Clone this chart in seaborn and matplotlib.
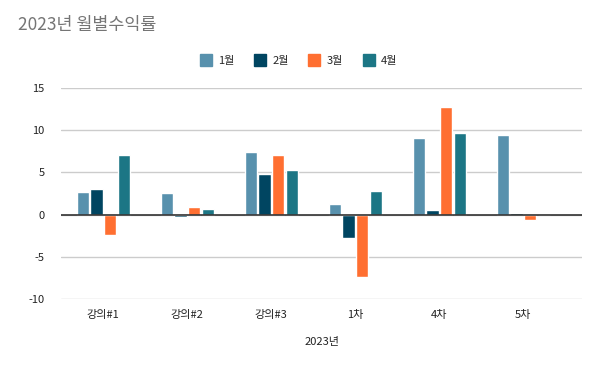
import numpy as np
import pandas as pd
import matplotlib
matplotlib.use("Agg")
import matplotlib.pyplot as plt
import seaborn as sns
from matplotlib.lines import Line2D

categories = ["강의#1", "강의#2", "강의#3", "1차", "4차", "5차"]
months = ["1월", "2월", "3월", "4월"]
m1 = [2.7, 2.6, 7.45, 1.3, 9.1, 9.45]
m2 = [3.0, -0.25, 4.85, -2.75, 0.5, 0.15]
m3 = [-2.4, 0.95, 7.1, -7.4, 12.8, -0.65]
m4 = [7.1, 0.7, 5.3, 2.85, 9.7, 0.0]
colors = ["#5891AD", "#004561", "#FF6F31", "#1C7685"]

rows = []
for mon, vals in zip(months, [m1, m2, m3, m4]):
    for c, v in zip(categories, vals):
        rows.append({"cat": c, "month": mon, "val": v})
df = pd.DataFrame(rows)

sns.set_style("white")
plt.rcParams['font.family'] = ['Noto Sans CJK KR', 'DejaVu Sans']
plt.rcParams['axes.unicode_minus'] = False

fig = plt.figure(figsize=(6, 3.71), dpi=100)
ax = fig.add_axes([0.102, 0.194, 0.868, 0.569])

sns.barplot(data=df, x="cat", y="val", hue="month", order=categories,
            hue_order=months, palette=colors, saturation=1, width=0.65,
            gap=0.1, ax=ax, legend=False)

ax.set_ylim(-10, 15)
ax.set_yticks([-10, -5, 0, 5, 10, 15])
ax.set_xlim(-0.5, 5.7)
ax.grid(axis="y", color="#cccccc", linewidth=1)
ax.set_axisbelow(True)
ax.axhline(0, color="#333333", linewidth=1.2, zorder=3)
for s in ax.spines.values():
    s.set_visible(False)
ax.tick_params(axis="both", length=0, labelsize=8, colors="#222222")
ax.tick_params(axis="y", pad=12)
ax.tick_params(axis="x", pad=8)
ax.set_ylabel("")
ax.set_xlabel("2023년", fontsize=8, color="#222222", labelpad=12)

fig.text(0.03, 0.92, "2023년 월별수익률", fontsize=12.5, color="#757575")

handles = [Line2D([0], [0], marker="s", linestyle="", markersize=8.5,
                  markerfacecolor=c, markeredgecolor=c) for c in colors]
fig.legend(handles, months, loc="center", bbox_to_anchor=(0.498, 0.836),
           ncol=4, frameon=False, fontsize=8, handlelength=1,
           handletextpad=0.6, columnspacing=1.8)

fig.savefig("out.png", dpi=100)
